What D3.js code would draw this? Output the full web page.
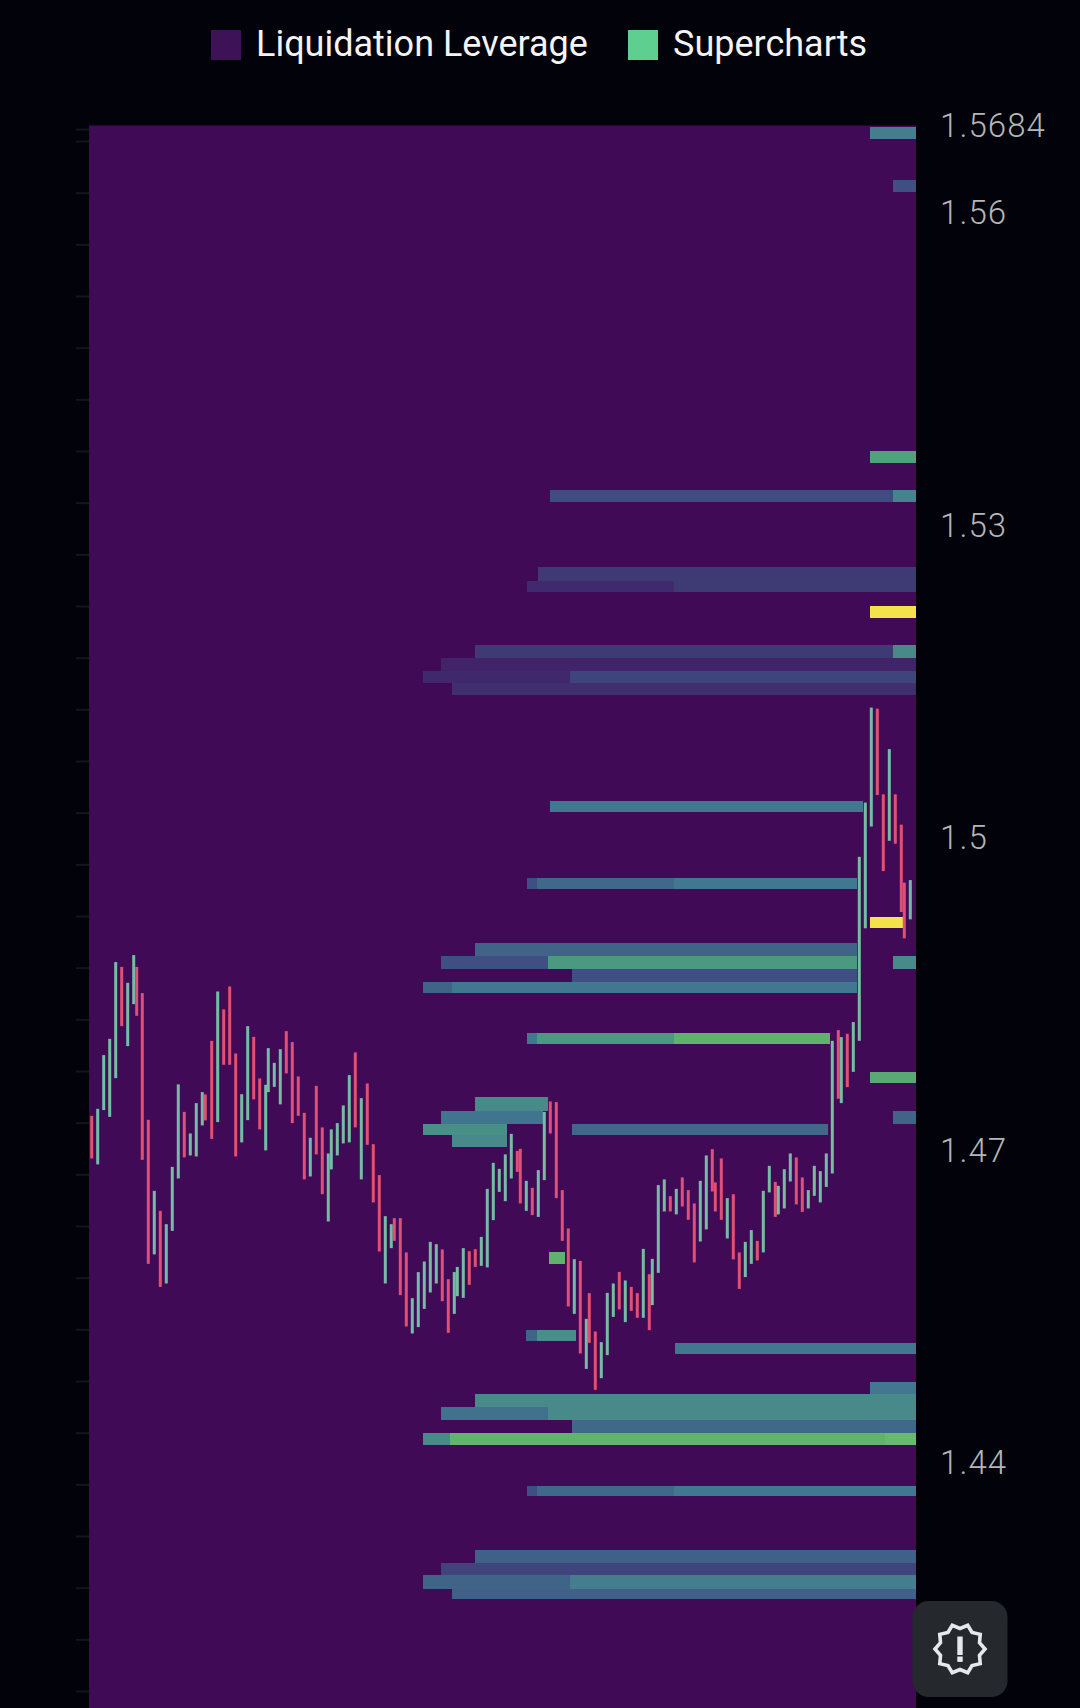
<!DOCTYPE html>
<html>
<head>
<meta charset="utf-8">
<style>
  html, body { margin: 0; padding: 0; background: #02020a; overflow: hidden; }
  svg { display: block; }
</style>
<script src="https://cdn.jsdelivr.net/npm/d3@7"></script>
</head>
<body>
<svg id="chart"></svg>
<script>
const legendLabels = ['Liquidation Leverage', 'Supercharts'];
const priceTicks = [1.5684, 1.56, 1.53, 1.5, 1.47, 1.44];
const leftTicks = [-0.23, 0, 1, 2, 3, 4, 5, 6, 7, 8, 9, 10, 11, 12, 13, 14, 15, 16, 17, 18, 19, 20, 21, 22, 23, 24, 25, 26, 27, 28, 29, 30];

// candles, time in bar units
const candleTime = [0.45, 1.45, 2.45, 3.45, 4.45, 5.45, 6.45, 7.45, 7.95, 8.88, 9.88, 10.88, 11.88, 12.88, 13.88, 14.88,
  15.88, 16.88, 17.88, 18.88, 19.38, 20.45, 21.45, 22.45, 23.45, 24.45, 25.45, 26.45, 27.45, 28.45, 29.45, 29.88,
  30.88, 31.88, 32.88, 33.88, 34.88, 35.88, 36.88, 37.88, 38.88, 39.88, 40.38, 41.38, 42.38, 43.38, 44.38, 45.38,
  46.38, 47.38, 48.38, 49.38, 50.38, 50.88, 51.88, 52.88, 53.88, 54.88, 55.88, 56.88, 57.88, 58.88, 59.88, 60.88,
  61.38, 62.38, 63.38, 64.38, 65.38, 66.38, 67.38, 68.38, 69.38, 70.38, 71.38, 71.88, 72.88, 73.88, 74.88, 75.88,
  76.88, 77.88, 78.88, 79.88, 80.88, 81.88, 82.88, 83.38, 84.38, 85.38, 86.38, 87.38, 88.38, 89.38, 90.38, 91.38,
  92.38, 93.38, 93.88, 94.88, 95.88, 96.88, 97.88, 98.88, 99.88, 100.88, 101.88, 102.88, 103.88, 104.38, 105.38, 106.38,
  107.38, 108.38, 109.38, 110.38, 111.38, 112.38, 113.38, 114.38, 114.88, 115.88, 116.88, 117.88, 118.88, 119.88, 120.88, 121.88,
  122.88, 123.88, 124.88, 125.38, 126.38, 127.38, 128.38, 129.38, 130.38, 131.38, 132.38, 133.38, 134.38, 135.38, 135.88, 136.88];
const candleHigh = [1.47334, 1.47401, 1.47917, 1.48073, 1.4881, 1.48764, 1.48611, 1.48877, 1.48764, 1.48512, 1.47296, 1.46614, 1.46422, 1.46294, 1.46844, 1.47636,
  1.47372, 1.47165, 1.47456, 1.47562, 1.4754, 1.48054, 1.48528, 1.48356, 1.48576, 1.47933, 1.47542, 1.48195, 1.48092, 1.47693, 1.47632, 1.47984,
  1.47843, 1.47974, 1.48147, 1.48042, 1.47712, 1.47363, 1.47123, 1.47622, 1.47223, 1.46973, 1.47204, 1.47264, 1.47434, 1.47725, 1.47943, 1.47504,
  1.47645, 1.47062, 1.46765, 1.46371, 1.46294, 1.46352, 1.46352, 1.46023, 1.45584, 1.45834, 1.45936, 1.46124, 1.46102, 1.46052, 1.45766, 1.45834,
  1.45884, 1.46064, 1.46035, 1.46054, 1.46172, 1.46633, 1.46883, 1.46825, 1.46964, 1.47161, 1.46998, 1.47017, 1.4671, 1.46643, 1.46813, 1.47372,
  1.47472, 1.47466, 1.46621, 1.46253, 1.45958, 1.45942, 1.45385, 1.45632, 1.45264, 1.45162, 1.45635, 1.45725, 1.45836, 1.45754, 1.45692, 1.45632,
  1.46057, 1.45814, 1.45961, 1.46669, 1.46724, 1.46563, 1.46633, 1.46743, 1.46621, 1.46493, 1.4671, 1.46954, 1.47014, 1.46695, 1.46925, 1.46544,
  1.46582, 1.46023, 1.46124, 1.46237, 1.46134, 1.46614, 1.46854, 1.467, 1.46662, 1.46822, 1.46973, 1.46935, 1.46743, 1.46621, 1.46854, 1.46803,
  1.46973, 1.48054, 1.48157, 1.4809, 1.48122, 1.48234, 1.4982, 1.50341, 1.51253, 1.51242, 1.5042, 1.50854, 1.5042, 1.50129, 1.49573, 1.49597];
const candleLow = [1.46925, 1.46868, 1.47389, 1.47324, 1.47696, 1.48195, 1.48003, 1.48406, 1.48294, 1.46912, 1.45913, 1.46004, 1.45692, 1.45725, 1.4623, 1.46733,
  1.46935, 1.46954, 1.46944, 1.47242, 1.4729, 1.47113, 1.47274, 1.47824, 1.47824, 1.46944, 1.47079, 1.47293, 1.47492, 1.47204, 1.47002, 1.47562,
  1.47612, 1.47444, 1.47741, 1.47264, 1.47334, 1.46724, 1.46752, 1.46964, 1.46582, 1.4632, 1.4682, 1.46954, 1.47069, 1.47079, 1.47223, 1.46724,
  1.47056, 1.46503, 1.46032, 1.45725, 1.46064, 1.46134, 1.45613, 1.45312, 1.45245, 1.45306, 1.45481, 1.45639, 1.45725, 1.45555, 1.45251, 1.45433,
  1.45603, 1.45587, 1.45712, 1.45884, 1.45894, 1.45879, 1.46333, 1.46604, 1.46515, 1.46733, 1.46796, 1.46493, 1.46422, 1.46381, 1.46364, 1.46717,
  1.47165, 1.46544, 1.46134, 1.45504, 1.45433, 1.45053, 1.44905, 1.45155, 1.44704, 1.44816, 1.45037, 1.45404, 1.45476, 1.45354, 1.45462, 1.45395,
  1.45395, 1.45277, 1.45517, 1.45827, 1.46416, 1.46416, 1.46388, 1.46464, 1.46336, 1.45927, 1.46128, 1.46244, 1.46608, 1.46416, 1.46336, 1.46157,
  1.45956, 1.45673, 1.45786, 1.45913, 1.45946, 1.46023, 1.46599, 1.46364, 1.46388, 1.46445, 1.46704, 1.46484, 1.46412, 1.46445, 1.46566, 1.46503,
  1.46652, 1.46781, 1.47498, 1.47456, 1.4761, 1.47756, 1.48054, 1.49134, 1.50111, 1.50413, 1.49683, 1.49974, 1.49946, 1.4929, 1.49038, 1.4922];
const candleRise = [0, 1, 1, 1, 1, 0, 1, 1, 0, 0, 0, 1, 0, 1, 1, 1,
  0, 1, 1, 1, 0, 0, 1, 0, 0, 0, 1, 1, 0, 0, 1, 1,
  1, 1, 0, 0, 0, 0, 1, 0, 0, 1, 1, 1, 1, 1, 0, 1,
  0, 0, 0, 1, 1, 0, 0, 0, 1, 1, 1, 1, 1, 0, 0, 1,
  1, 1, 0, 0, 1, 1, 1, 1, 1, 1, 0, 0, 1, 0, 1, 1,
  0, 0, 0, 0, 1, 0, 1, 0, 0, 1, 1, 1, 0, 1, 0, 0,
  1, 0, 1, 1, 1, 0, 1, 0, 0, 0, 1, 1, 0, 0, 0, 1,
  0, 0, 1, 1, 0, 1, 1, 0, 1, 1, 1, 0, 0, 1, 1, 1,
  1, 1, 0, 1, 0, 1, 1, 1, 1, 0, 0, 1, 0, 0, 0, 1];

// heatmap price rows
const rowHigh = [1.56828, 1.56317, 1.53712, 1.53341, 1.52599, 1.5247, 1.52227, 1.5185, 1.51725, 1.51606, 1.51485, 1.50358,
  1.49621, 1.49247, 1.48997, 1.48872, 1.48746, 1.4862, 1.48129, 1.47756, 1.47511, 1.47384, 1.47259, 1.47146,
  1.46023, 1.45277, 1.45155, 1.4478, 1.4466, 1.44535, 1.44413, 1.44285, 1.43782, 1.43165, 1.43043, 1.42925, 1.42797];
const rowLow = [1.56708, 1.56204, 1.53603, 1.53228, 1.5247, 1.52362, 1.52112, 1.51725, 1.51606, 1.51485, 1.51373, 1.50255,
  1.4951, 1.49141, 1.48872, 1.48746, 1.4862, 1.48517, 1.48026, 1.47653, 1.47384, 1.47259, 1.47146, 1.47031,
  1.45913, 1.45168, 1.45046, 1.4466, 1.44535, 1.44413, 1.44285, 1.44176, 1.43683, 1.43043, 1.42925, 1.42797, 1.42692];

// heatmap cells: row, start, end, level
const cellRow = [0, 1, 2, 3, 3, 4, 5, 5, 6, 7, 7, 8, 9, 9, 10, 11, 12, 12, 12, 13, 14, 15, 15, 15, 16, 17, 17, 18, 18, 18, 19, 20, 21, 21, 22, 22, 23,
  24, 25, 25, 26, 27, 28, 29, 29, 30, 31, 31, 31, 32, 32, 32, 33, 34, 35, 35, 36];
const cellStart = [130.2, 134, 130.2, 76.75, 134, 74.83, 73, 97.5, 130.2, 64.3, 134, 58.7, 55.7, 80.2, 60.5, 76.75, 73, 74.6, 97.5, 130.2, 64.3, 58.7, 76.5, 134, 80.5, 55.7, 60.5, 73, 74.6, 97.5, 130.2, 64.3, 58.7, 134, 55.7, 80.5, 60.5,
  76.7, 72.9, 74.6, 97.7, 130.2, 64.3, 58.6, 76.5, 80.5, 55.7, 60.2, 132.6, 73, 74.6, 97.5, 64.3, 58.6, 55.7, 80.2, 60.5];
const cellEnd = [137.83, 137.83, 137.83, 134, 137.83, 137.83, 97.5, 137.83, 137.83, 134, 137.83, 137.83, 80.2, 137.83, 137.83, 129, 74.6, 97.5, 128, 135.7, 128, 76.5, 128, 137.83, 128, 60.5, 128, 74.6, 97.5, 123.5, 137.83, 76.5, 75.6, 137.83, 69.7, 123.2, 69.7,
  79.3, 74.6, 81.1, 137.83, 137.83, 137.83, 76.5, 137.83, 137.83, 60.2, 132.6, 137.83, 74.6, 97.5, 137.83, 137.83, 137.83, 80.2, 137.83, 137.83];
const cellLevel = [0.52, 0.3, 0.7, 0.28, 0.55, 0.2, 0.13, 0.2, 1, 0.2, 0.58, 0.1, 0.12, 0.25, 0.15, 0.5, 0.3, 0.42, 0.5, 1, 0.4, 0.3, 0.65, 0.58, 0.3, 0.4, 0.5, 0.5, 0.65, 0.8, 0.75, 0.58, 0.48, 0.4, 0.6, 0.42, 0.58,
  0.8, 0.4, 0.6, 0.5, 0.5, 0.58, 0.47, 0.58, 0.42, 0.58, 0.82, 0.86, 0.3, 0.42, 0.5, 0.38, 0.25, 0.4, 0.52, 0.38];

const heatLevels = [0, 0.1, 0.2, 0.3, 0.4, 0.5, 0.6, 0.7, 0.8, 0.9, 0.99, 1];
const heatColors = ['#400a56', '#41236a', '#3e3a74', '#3f4f84', '#3f6488', '#42788f', '#488f88', '#4fa27a', '#60b06e', '#6cc070', '#6cc070', '#f4e24a'];

const width = 1080;
const height = 1708;

const svg = d3.select('#chart').attr('width', width).attr('height', height);

const x = d3.scaleLinear().domain([0, 137.83]).range([89, 916]);
const y = d3.scaleLinear().domain([1.5684, 1.4165]).range([125.5, 1708]);
const leftScale = d3.scaleLinear().domain([0, 30]).range([141, 1691]);
const heatColor = d3.scaleLinear().domain(heatLevels).range(heatColors);

svg.append('rect').attr('width', width).attr('height', height).attr('fill', '#02020a');

// plot background
svg.append('rect')
  .attr('x', x(0))
  .attr('y', y(1.5684))
  .attr('width', x(137.83) - x(0))
  .attr('height', y(1.4165) - y(1.5684))
  .attr('fill', heatColor(0));

// liquidation heat cells
svg.append('g').attr('shape-rendering', 'crispEdges')
  .selectAll('rect').data(d3.range(cellRow.length))
  .enter().append('rect')
  .attr('x', i => x(cellStart[i]))
  .attr('y', i => y(rowHigh[cellRow[i]]))
  .attr('width', i => x(cellEnd[i]) - x(cellStart[i]))
  .attr('height', i => y(rowLow[cellRow[i]]) - y(rowHigh[cellRow[i]]))
  .attr('fill', i => heatColor(cellLevel[i]));

// candles
svg.append('g').selectAll('rect').data(d3.range(candleTime.length))
  .enter().append('rect')
  .attr('x', i => x(candleTime[i]) - 1.5)
  .attr('y', i => y(candleHigh[i]))
  .attr('width', 3)
  .attr('height', i => y(candleLow[i]) - y(candleHigh[i]))
  .attr('fill', i => candleRise[i] ? '#74bda3' : '#e04f74');

// left ticks, no labels
const leftAxis = svg.append('g')
  .attr('transform', `translate(${x(0)},0)`)
  .call(d3.axisLeft(leftScale).tickValues(leftTicks).tickSize(13).tickFormat(''));
leftAxis.select('.domain').remove();
leftAxis.selectAll('line').attr('stroke', '#15151a').attr('stroke-width', 2);

// right price axis
const rightAxis = svg.append('g')
  .attr('transform', `translate(${x(137.83)},0)`)
  .call(d3.axisRight(y).tickValues(priceTicks).tickSize(0).tickPadding(24).tickFormat(d => String(d)));
rightAxis.select('.domain').remove();
rightAxis.selectAll('text')
  .attr('fill', '#b4b6b9')
  .attr('font-family', 'Roboto')
  .attr('font-weight', 300)
  .attr('font-size', 33)
  .attr('letter-spacing', 1.1);

// legend
const legendX = d3.scaleOrdinal().domain(legendLabels).range([211, 628]);
const legendFill = d3.scaleOrdinal().domain(legendLabels).range(['#3d1257', '#5fcf8f']);
const legend = svg.append('g').selectAll('g').data(legendLabels)
  .enter().append('g')
  .attr('transform', d => `translate(${legendX(d)},30)`);
legend.append('rect')
  .attr('width', 30)
  .attr('height', 30)
  .attr('fill', d => legendFill(d));
legend.append('text')
  .attr('x', 45)
  .attr('y', 26)
  .attr('fill', '#f4f4f6')
  .attr('font-family', 'Roboto')
  .attr('font-size', 36)
  .text(d => d);

// floating report button
const button = svg.append('g').attr('transform', 'translate(960,1649)');
button.append('rect')
  .attr('x', -47.5)
  .attr('y', -48)
  .attr('width', 95)
  .attr('height', 96)
  .attr('rx', 16)
  .attr('fill', '#25282c');
const badgeRadius = d3.range(20).map(i => i % 2 ? 20.5 : 25);
const badge = d3.lineRadial()
  .angle((d, i) => i * Math.PI / 10 + Math.PI / 2)
  .radius(d => d)
  .curve(d3.curveLinearClosed);
button.append('path')
  .attr('d', badge(badgeRadius))
  .attr('fill', 'none')
  .attr('stroke', '#e6e8ec')
  .attr('stroke-width', 3.6);
button.append('rect').attr('x', -2.7).attr('y', -12.5).attr('width', 5.4).attr('height', 18.5).attr('fill', '#e6e8ec');
button.append('rect').attr('x', -2.7).attr('y', 7.5).attr('width', 5.4).attr('height', 5.4).attr('fill', '#e6e8ec');
</script>
</body>
</html>
